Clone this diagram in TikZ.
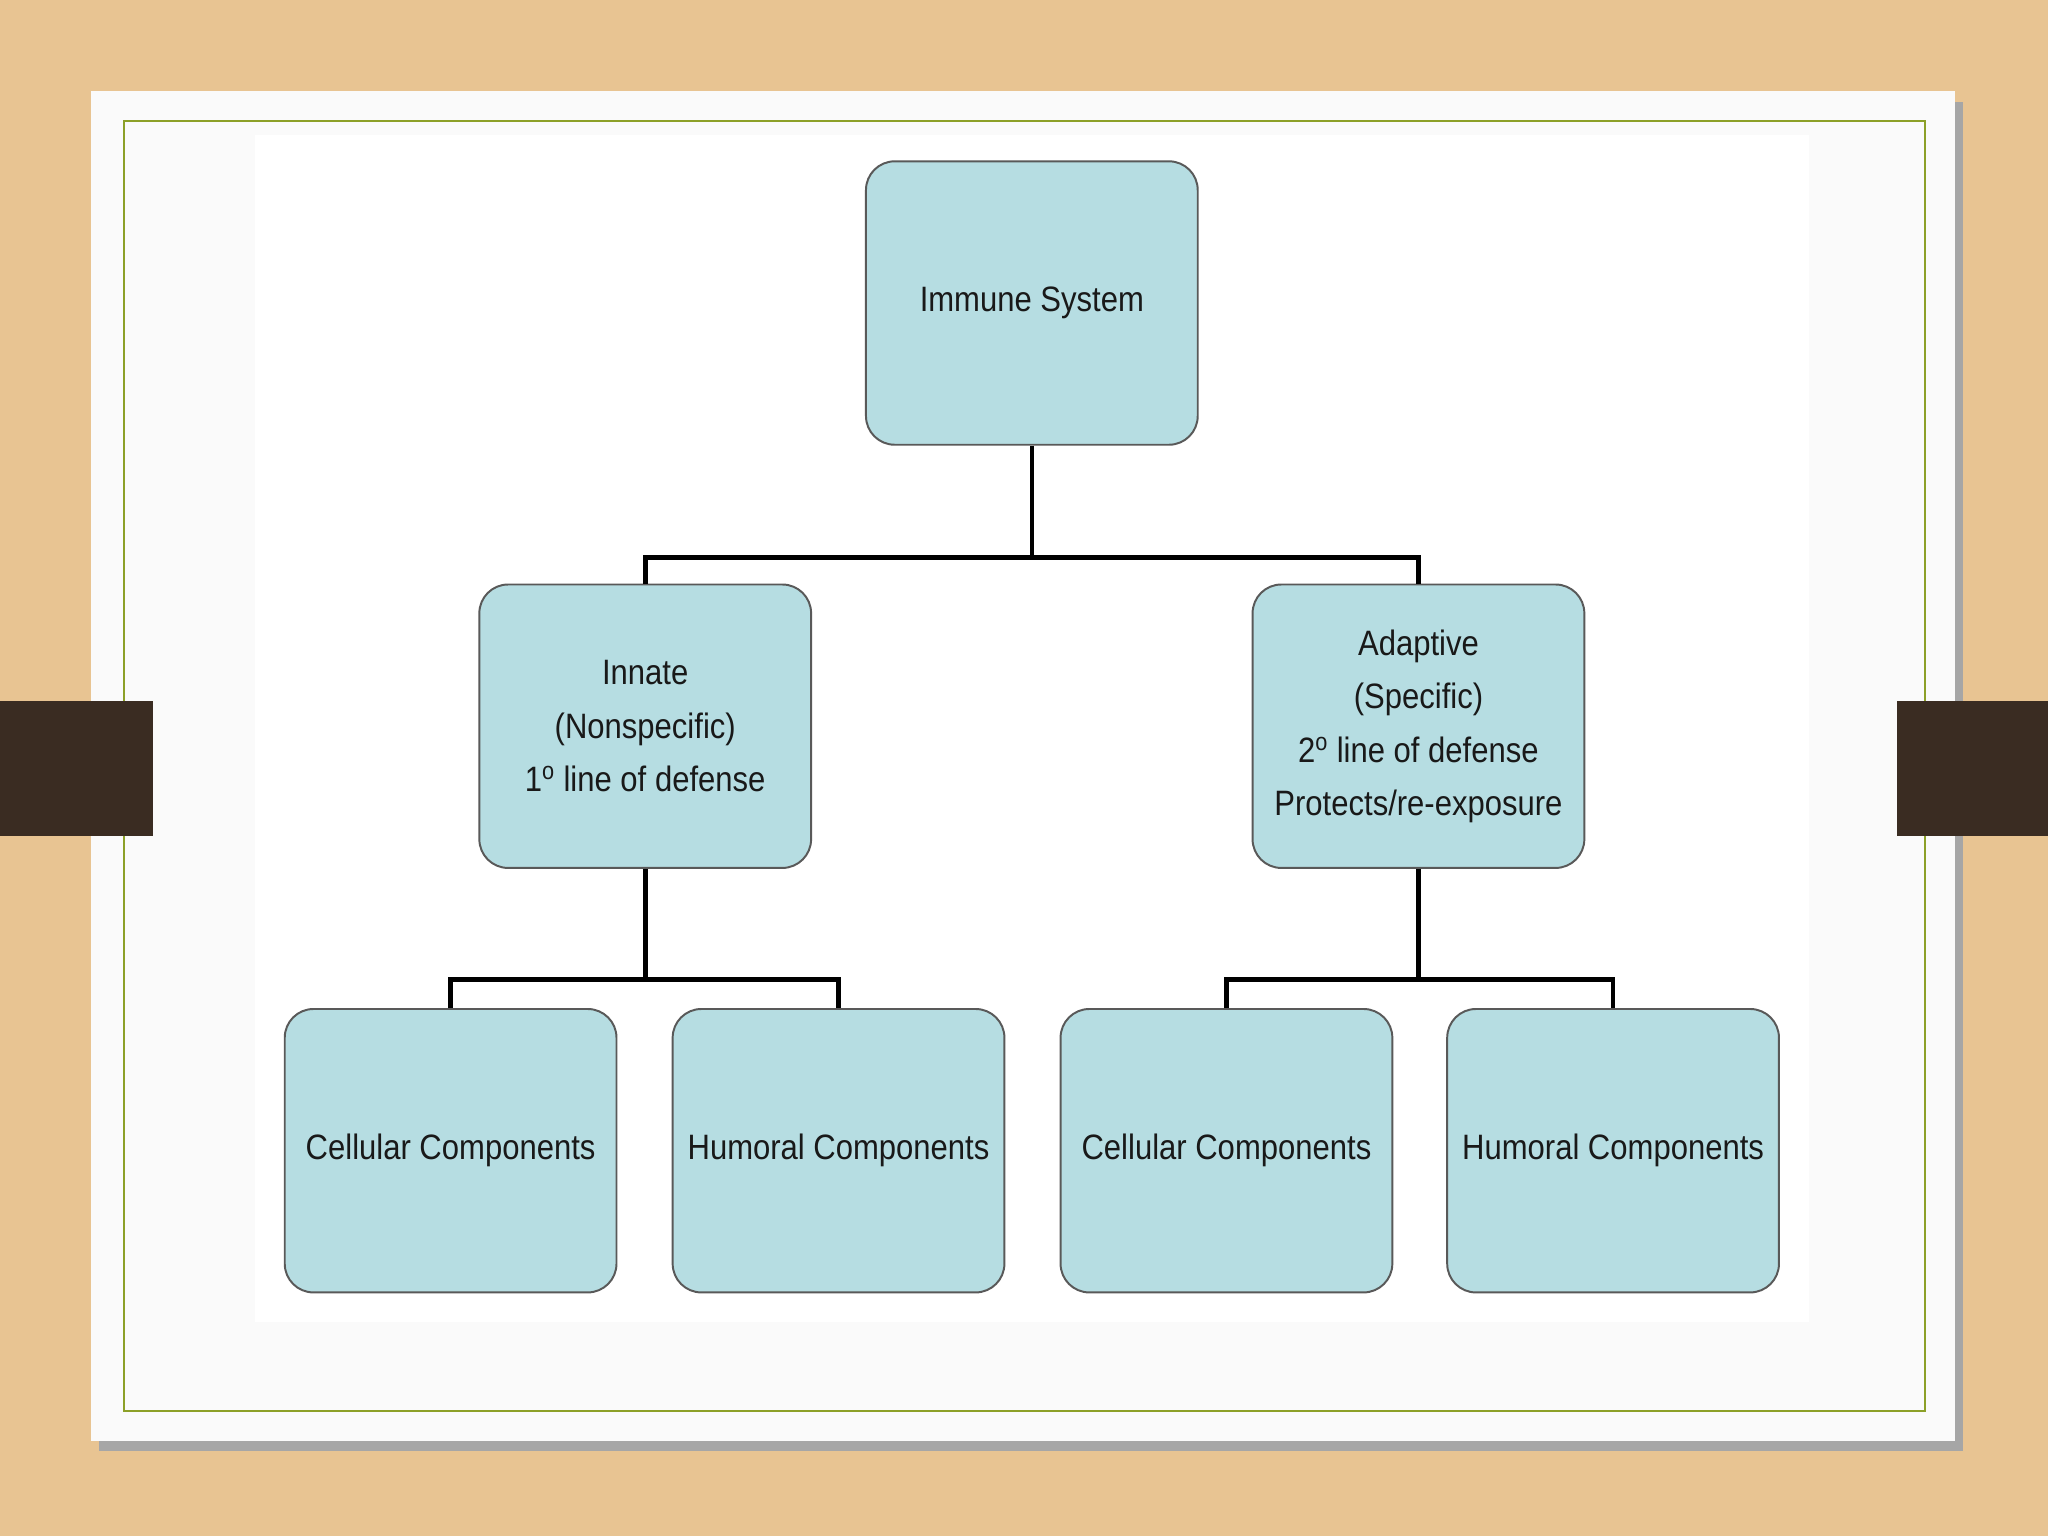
\documentclass[tikz,border=0pt]{standalone}
\usepackage{fontspec}
\setmainfont{Liberation Sans}
\newfontfamily\boxfont[FakeStretch=0.88]{Liberation Sans}
\begin{document}
\begin{tikzpicture}[x=1pt,y=-1pt,
  bx/.style={draw=gray!70!black,line width=1.5pt,fill=teal0,rounded corners=22pt,
    minimum width=254pt,minimum height=217pt,align=center,font=\boxfont\fontsize{27}{41}\selectfont,text=black!90},
  ln/.style={line width=3.5pt,black}]
\definecolor{wood}{RGB}{232,196,146}
\definecolor{teal0}{RGB}{182,221,226}
\definecolor{olive0}{RGB}{140,160,40}
\definecolor{tab}{RGB}{58,44,34}
\useasboundingbox (0,0) rectangle (1568,1176);
\fill[wood] (0,0) rectangle (1568,1176);
\fill[black!35] (76,78) rectangle (1503,1111);
\fill[white!96!gray] (70,70) rectangle (1497,1103);
\draw[olive0,line width=1.5pt] (95,93) rectangle (1474,1080);
\fill[white] (195,103) rectangle (1385,1012);
\fill[tab] (0,537) rectangle (117,640);
\fill[tab] (1452,537) rectangle (1568,640);
\node[bx] (top) at (790,232) {Immune System};
\node[bx] (inn) at (494,556) {Innate\\(Nonspecific)\\1\textsuperscript{o} line of defense};
\node[bx] (ada) at (1086,556) {Adaptive\\(Specific)\\2\textsuperscript{o} line of defense\\Protects/re-exposure};
\node[bx] (c1) at (345,881) {Cellular Components};
\node[bx] (h1) at (642,881) {Humoral Components};
\node[bx] (c2) at (939,881) {Cellular Components};
\node[bx] (h2) at (1235,881) {Humoral Components};
\coordinate (j0) at (790,427);
\coordinate (j1) at (494,750);
\coordinate (j2) at (1086,750);
\draw[ln] (top.south) -- (j0);
\draw[ln] (inn.north) |- (j0) -| (ada.north);
\draw[ln] (inn.south) -- (j1);
\draw[ln] (c1.north) |- (j1) -| (h1.north);
\draw[ln] (ada.south) -- (j2);
\draw[ln] (c2.north) |- (j2) -| (h2.north);
\end{tikzpicture}
\end{document}
